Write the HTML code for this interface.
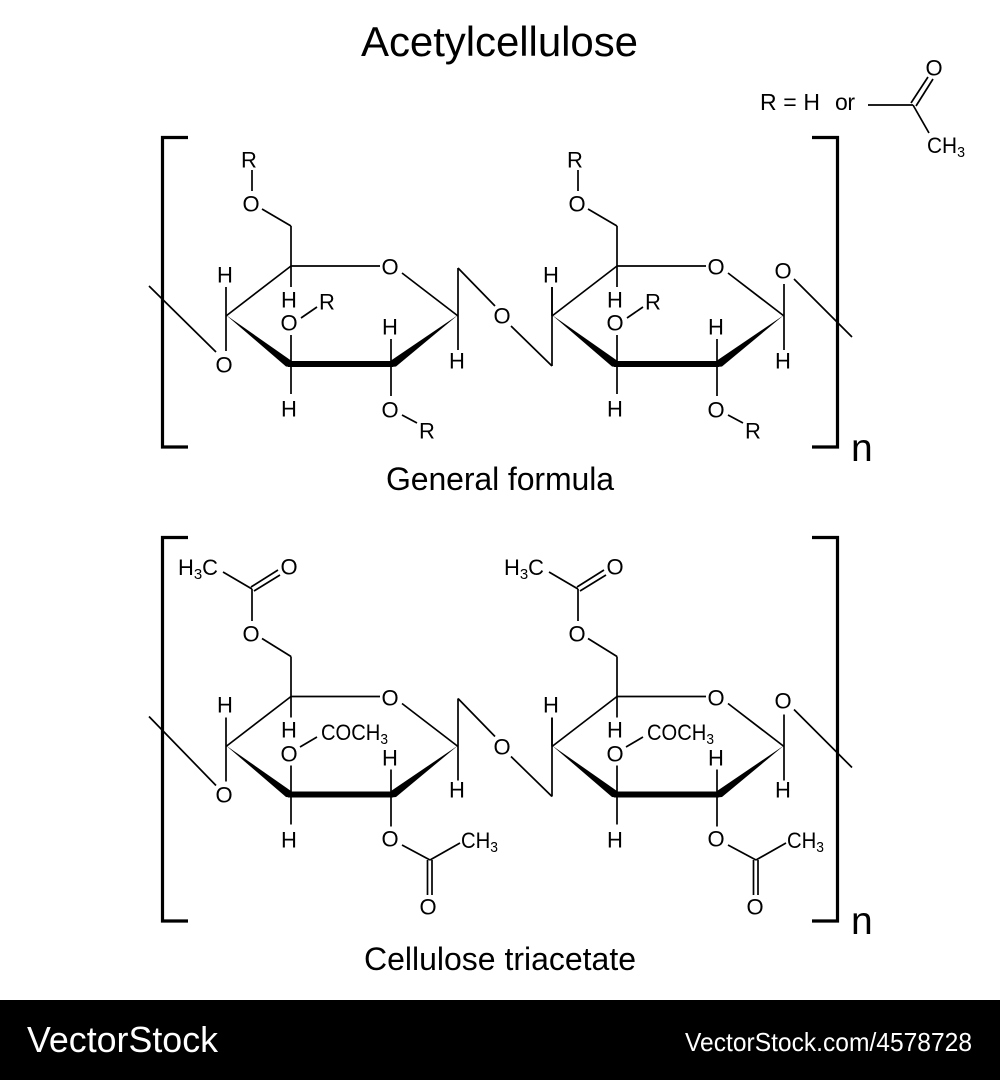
<!DOCTYPE html>
<html><head><meta charset="utf-8"><title>Acetylcellulose</title>
<style>
html,body{margin:0;padding:0;background:#fff}
svg{display:block}
text{font-family:"Liberation Sans",sans-serif;fill:#000}
.a{font-size:22px;text-anchor:middle;transform:translateY(.7px)}
.l{font-size:22px}
.s{font-size:15px}
line,polyline{stroke:#000;stroke-width:1.7;fill:none}
.b{stroke-width:3.2}
</style></head><body>
<svg width="1000" height="1080" viewBox="0 0 1000 1080" xmlns="http://www.w3.org/2000/svg">
<defs>
<g id="ring">
<line x1="226" y1="316" x2="291" y2="266"/>
<line x1="291" y1="266" x2="380" y2="266"/>
<line x1="402" y1="273" x2="458" y2="316"/>
<line x1="291" y1="226" x2="291" y2="287"/>
<line x1="226" y1="287" x2="226" y2="316"/>
<line x1="291" y1="335" x2="291" y2="394"/>
<line x1="391" y1="339" x2="391" y2="396"/>
<line x1="458" y1="316" x2="458" y2="350"/>
<polygon points="226,315 291,360.5 291,367 286,366.5"/>
<polygon points="458,315 391,360.5 391,367 396,366.5"/>
<rect x="288" y="361" width="105" height="6"/>
</g>
</defs>
<rect width="1000" height="1080" fill="#fff"/>

<!-- Title -->
<text x="361" y="56" font-size="42" textLength="277">Acetylcellulose</text>

<!-- Legend -->
<text x="760" y="110" font-size="23" textLength="60">R = H</text>
<text x="835" y="110" font-size="23" textLength="20">or</text>
<line x1="868" y1="105" x2="913" y2="105"/>
<line x1="913" y1="105" x2="929" y2="133"/>
<line x1="911" y1="103" x2="928" y2="77"/>
<line x1="916" y1="106" x2="933" y2="79"/>
<text class="a" x="934" y="75">O</text>
<text class="l" x="927" y="153" textLength="38" lengthAdjust="spacingAndGlyphs">CH<tspan class="s" dy="4">3</tspan></text>

<!-- Brackets top -->
<polyline class="b" points="188,137.5 162.5,137.5 162.5,447 188,447"/>
<polyline class="b" points="812,137.5 837.5,137.5 837.5,447 812,447"/>
<text x="851" y="461" font-size="39">n</text>

<!-- General formula structure -->
<use href="#ring"/>
<use href="#ring" x="326"/>
<!-- left chain -->
<line x1="226" y1="316" x2="226" y2="351"/>
<line x1="149" y1="286" x2="216" y2="352"/>
<line x1="291" y1="226" x2="262" y2="209"/>
<line x1="252" y1="170" x2="252" y2="191"/>
<line x1="301" y1="318" x2="317" y2="307"/>
<line x1="402" y1="415" x2="417" y2="423"/>
<line x1="458" y1="268" x2="458" y2="316"/>
<line x1="458" y1="268" x2="495" y2="306"/>
<line x1="511" y1="326" x2="552" y2="366"/>
<line x1="552" y1="287" x2="552" y2="366"/>
<!-- right chain -->
<line x1="617" y1="226" x2="588" y2="209"/>
<line x1="578" y1="170" x2="578" y2="191"/>
<line x1="627" y1="318" x2="643" y2="307"/>
<line x1="728" y1="415" x2="743" y2="423"/>
<line x1="784" y1="284" x2="784" y2="316"/>
<line x1="794" y1="279" x2="852" y2="337"/>

<text class="a" x="249" y="167">R</text>
<text class="a" x="251" y="211">O</text>
<text class="a" x="225" y="282">H</text>
<text class="a" x="289" y="307">H</text>
<text class="a" x="327" y="309">R</text>
<text class="a" x="289" y="330">O</text>
<text class="a" x="390" y="274">O</text>
<text class="a" x="390" y="334">H</text>
<text class="a" x="224" y="372">O</text>
<text class="a" x="289" y="416">H</text>
<text class="a" x="390" y="417">O</text>
<text class="a" x="427" y="438">R</text>
<text class="a" x="457" y="368">H</text>
<text class="a" x="502" y="323">O</text>

<text class="a" x="575" y="167">R</text>
<text class="a" x="577" y="211">O</text>
<text class="a" x="551" y="282">H</text>
<text class="a" x="615" y="307">H</text>
<text class="a" x="653" y="309">R</text>
<text class="a" x="615" y="330">O</text>
<text class="a" x="716" y="274">O</text>
<text class="a" x="716" y="334">H</text>
<text class="a" x="615" y="416">H</text>
<text class="a" x="716" y="417">O</text>
<text class="a" x="753" y="438">R</text>
<text class="a" x="783" y="368">H</text>
<text class="a" x="783" y="278">O</text>

<text x="386" y="490" font-size="32" textLength="228">General formula</text>

<!-- Brackets bottom -->
<polyline class="b" points="188,537.5 162.5,537.5 162.5,921 188,921"/>
<polyline class="b" points="812,537.5 837.5,537.5 837.5,921 812,921"/>
<text x="851" y="934" font-size="39">n</text>

<!-- Cellulose triacetate structure -->
<g transform="translate(0,430.5)">
<use href="#ring"/>
<use href="#ring" x="326"/>
<line x1="226" y1="316" x2="226" y2="351"/>
<line x1="149" y1="286" x2="216" y2="355"/>
<line x1="291" y1="226" x2="262" y2="208"/>
<line x1="458" y1="268" x2="458" y2="316"/>
<line x1="458" y1="268" x2="495" y2="306"/>
<line x1="511" y1="326" x2="552" y2="366"/>
<line x1="552" y1="287" x2="552" y2="366"/>
<line x1="617" y1="226" x2="588" y2="208"/>
<line x1="784" y1="284" x2="784" y2="316"/>
<line x1="794" y1="279" x2="852" y2="337"/>
</g>
<!-- acetyl left -->
<line x1="252" y1="621" x2="252" y2="589"/>
<line x1="223" y1="572" x2="252" y2="589"/>
<line x1="251" y1="587" x2="278" y2="570"/>
<line x1="254" y1="591" x2="280" y2="575"/>
<line x1="300" y1="747" x2="317" y2="737"/>
<line x1="402" y1="845" x2="430" y2="860"/>
<line x1="430" y1="860" x2="460" y2="843"/>
<line x1="427.5" y1="860" x2="427.5" y2="895"/>
<line x1="432" y1="860" x2="432" y2="895"/>
<!-- acetyl right -->
<line x1="578" y1="621" x2="578" y2="589"/>
<line x1="549" y1="572" x2="578" y2="589"/>
<line x1="577" y1="587" x2="604" y2="570"/>
<line x1="580" y1="591" x2="606" y2="575"/>
<line x1="626" y1="747" x2="643" y2="737"/>
<line x1="728" y1="845" x2="756" y2="860"/>
<line x1="756" y1="860" x2="786" y2="843"/>
<line x1="753.5" y1="860" x2="753.5" y2="895"/>
<line x1="758" y1="860" x2="758" y2="895"/>

<text x="178" y="575" font-size="22" textLength="40" lengthAdjust="spacingAndGlyphs">H<tspan class="s" dy="4">3</tspan><tspan dy="-4">C</tspan></text>
<text class="a" x="289" y="574">O</text>
<text class="a" x="251" y="641">O</text>
<text class="a" x="225" y="712">H</text>
<text class="a" x="289" y="737">H</text>
<text x="321" y="740" font-size="22" textLength="67" lengthAdjust="spacingAndGlyphs">COCH<tspan class="s" dy="4">3</tspan></text>
<text class="a" x="289" y="761">O</text>
<text class="a" x="390" y="705">O</text>
<text class="a" x="390" y="765">H</text>
<text class="a" x="224" y="802">O</text>
<text class="a" x="289" y="847">H</text>
<text class="a" x="390" y="846">O</text>
<text x="461" y="848" font-size="22" textLength="37" lengthAdjust="spacingAndGlyphs">CH<tspan class="s" dy="4">3</tspan></text>
<text class="a" x="428" y="914">O</text>
<text class="a" x="457" y="797">H</text>
<text class="a" x="502" y="754">O</text>

<text x="504" y="575" font-size="22" textLength="40" lengthAdjust="spacingAndGlyphs">H<tspan class="s" dy="4">3</tspan><tspan dy="-4">C</tspan></text>
<text class="a" x="615" y="574">O</text>
<text class="a" x="577" y="641">O</text>
<text class="a" x="551" y="712">H</text>
<text class="a" x="615" y="737">H</text>
<text x="647" y="740" font-size="22" textLength="67" lengthAdjust="spacingAndGlyphs">COCH<tspan class="s" dy="4">3</tspan></text>
<text class="a" x="615" y="761">O</text>
<text class="a" x="716" y="705">O</text>
<text class="a" x="716" y="765">H</text>
<text class="a" x="615" y="847">H</text>
<text class="a" x="716" y="846">O</text>
<text x="787" y="848" font-size="22" textLength="37" lengthAdjust="spacingAndGlyphs">CH<tspan class="s" dy="4">3</tspan></text>
<text class="a" x="755" y="914">O</text>
<text class="a" x="783" y="797">H</text>
<text class="a" x="783" y="708">O</text>

<text x="364" y="970" font-size="32" textLength="272">Cellulose triacetate</text>

<!-- Footer -->
<rect x="0" y="1000" width="1000" height="80" fill="#000"/>
<text x="27" y="1052" font-size="36" style="fill:#fff" textLength="191" lengthAdjust="spacingAndGlyphs">VectorStock</text>
<text x="685" y="1051" font-size="26" style="fill:#fff" textLength="287" lengthAdjust="spacingAndGlyphs">VectorStock.com/4578728</text>
</svg>
</body></html>
